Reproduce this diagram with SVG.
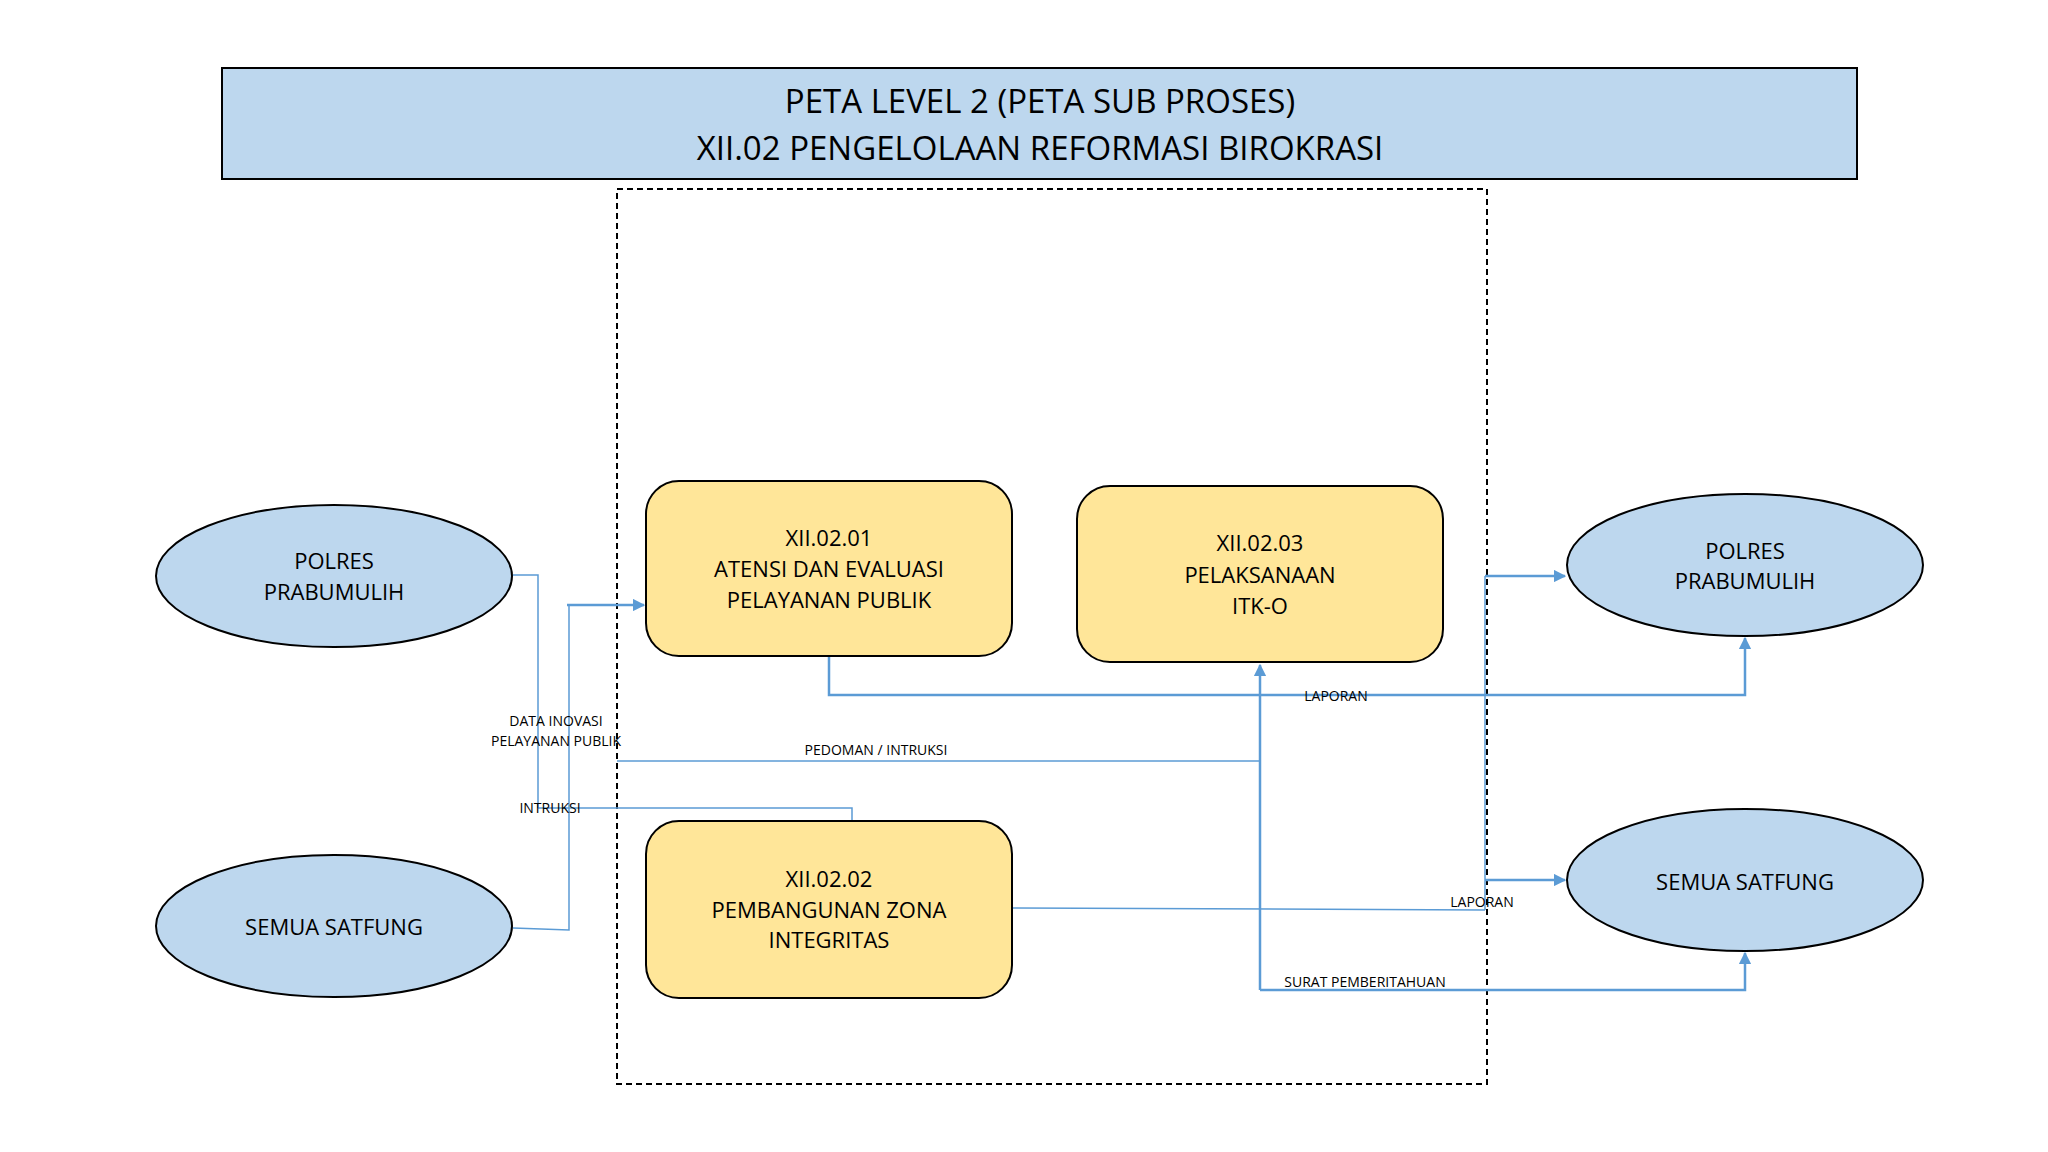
<svg xmlns="http://www.w3.org/2000/svg" width="2048" height="1152" viewBox="0 0 2048 1152">
<style>
text{font-family:"Open Sans","Noto Sans","Liberation Sans",sans-serif;fill:#000;text-anchor:middle}
.t{font-size:33px}.n{font-size:22px}.s{font-size:14px}
.box{fill:#ffe699;stroke:#000;stroke-width:2}
.ell{fill:#bdd7ee;stroke:#000;stroke-width:2}
.c{fill:none;stroke:#5b9bd5;stroke-width:2.5}
.thin{fill:none;stroke:#5b9bd5;stroke-width:1.5}
</style>
<defs><marker id="a" viewBox="0 0 10 10" refX="9" refY="5" markerWidth="5" markerHeight="5" orient="auto"><path d="M0,0L10,5L0,10z" fill="#5b9bd5"/></marker></defs>
<rect width="2048" height="1152" fill="#fff"/>
<g id="title"><rect x="222" y="68" width="1635" height="111" fill="#bdd7ee" stroke="#000" stroke-width="2"/>
<text class="t" x="1040" y="113">PETA LEVEL 2 (PETA SUB PROSES)</text>
<text class="t" x="1040" y="160">XII.02 PENGELOLAAN REFORMASI BIROKRASI</text></g>
<g id="boundary"><rect x="617" y="189" width="870" height="895" fill="none" stroke="#000" stroke-width="2" stroke-dasharray="6,4"/></g>
<g id="connectors">
<polyline class="thin" points="513,575 538,575 538,808"/>
<polyline class="thin" points="538,808 852,808 852,821"/>
<polyline class="thin" points="513,928 569,930 569,605"/>
<line class="c" x1="567" y1="605" x2="644" y2="605" marker-end="url(#a)"/>
<line class="thin" x1="617" y1="761" x2="1260" y2="761"/>
<line class="c" x1="1260" y1="990" x2="1260" y2="665" marker-end="url(#a)"/>
<polyline class="c" points="1260,990 1745,990 1745,953" marker-end="url(#a)"/>
<polyline class="c" points="829,656 829,695 1745,695 1745,638" marker-end="url(#a)"/>
<line class="thin" x1="1012" y1="908" x2="1485" y2="910"/>
<line class="thin" x1="1485" y1="576" x2="1485" y2="910"/>
<line class="c" x1="1485" y1="576" x2="1565" y2="576" marker-end="url(#a)"/>
<line class="c" x1="1485" y1="880" x2="1565" y2="880" marker-end="url(#a)"/>
<text class="s" x="556" y="726">DATA INOVASI</text>
<text class="s" x="556" y="746">PELAYANAN PUBLIK</text>
<text class="s" x="550" y="813">INTRUKSI</text>
<text class="s" x="876" y="755">PEDOMAN / INTRUKSI</text>
<text class="s" x="1336" y="701">LAPORAN</text>
<text class="s" x="1482" y="907">LAPORAN</text>
<text class="s" x="1365" y="987">SURAT PEMBERITAHUAN</text>
</g>
<g id="polres-left"><ellipse class="ell" cx="334" cy="576" rx="178" ry="71"/><text class="n" x="334" y="569">POLRES</text><text class="n" x="334" y="600">PRABUMULIH</text></g>
<g id="satfung-left"><ellipse class="ell" cx="334" cy="926" rx="178" ry="71"/><text class="n" x="334" y="935">SEMUA SATFUNG</text></g>
<g id="polres-right"><ellipse class="ell" cx="1745" cy="565" rx="178" ry="71"/><text class="n" x="1745" y="559">POLRES</text><text class="n" x="1745" y="589">PRABUMULIH</text></g>
<g id="satfung-right"><ellipse class="ell" cx="1745" cy="880" rx="178" ry="71"/><text class="n" x="1745" y="890">SEMUA SATFUNG</text></g>
<g id="n1"><rect class="box" x="646" y="481" width="366" height="175" rx="33"/><text class="n" x="829" y="546">XII.02.01</text><text class="n" x="829" y="577">ATENSI DAN EVALUASI</text><text class="n" x="829" y="608">PELAYANAN PUBLIK</text></g>
<g id="n3"><rect class="box" x="1077" y="486" width="366" height="176" rx="33"/><text class="n" x="1260" y="551">XII.02.03</text><text class="n" x="1260" y="583">PELAKSANAAN</text><text class="n" x="1260" y="614">ITK-O</text></g>
<g id="n2"><rect class="box" x="646" y="821" width="366" height="177" rx="33"/><text class="n" x="829" y="887">XII.02.02</text><text class="n" x="829" y="918">PEMBANGUNAN ZONA</text><text class="n" x="829" y="948">INTEGRITAS</text></g>
</svg>
